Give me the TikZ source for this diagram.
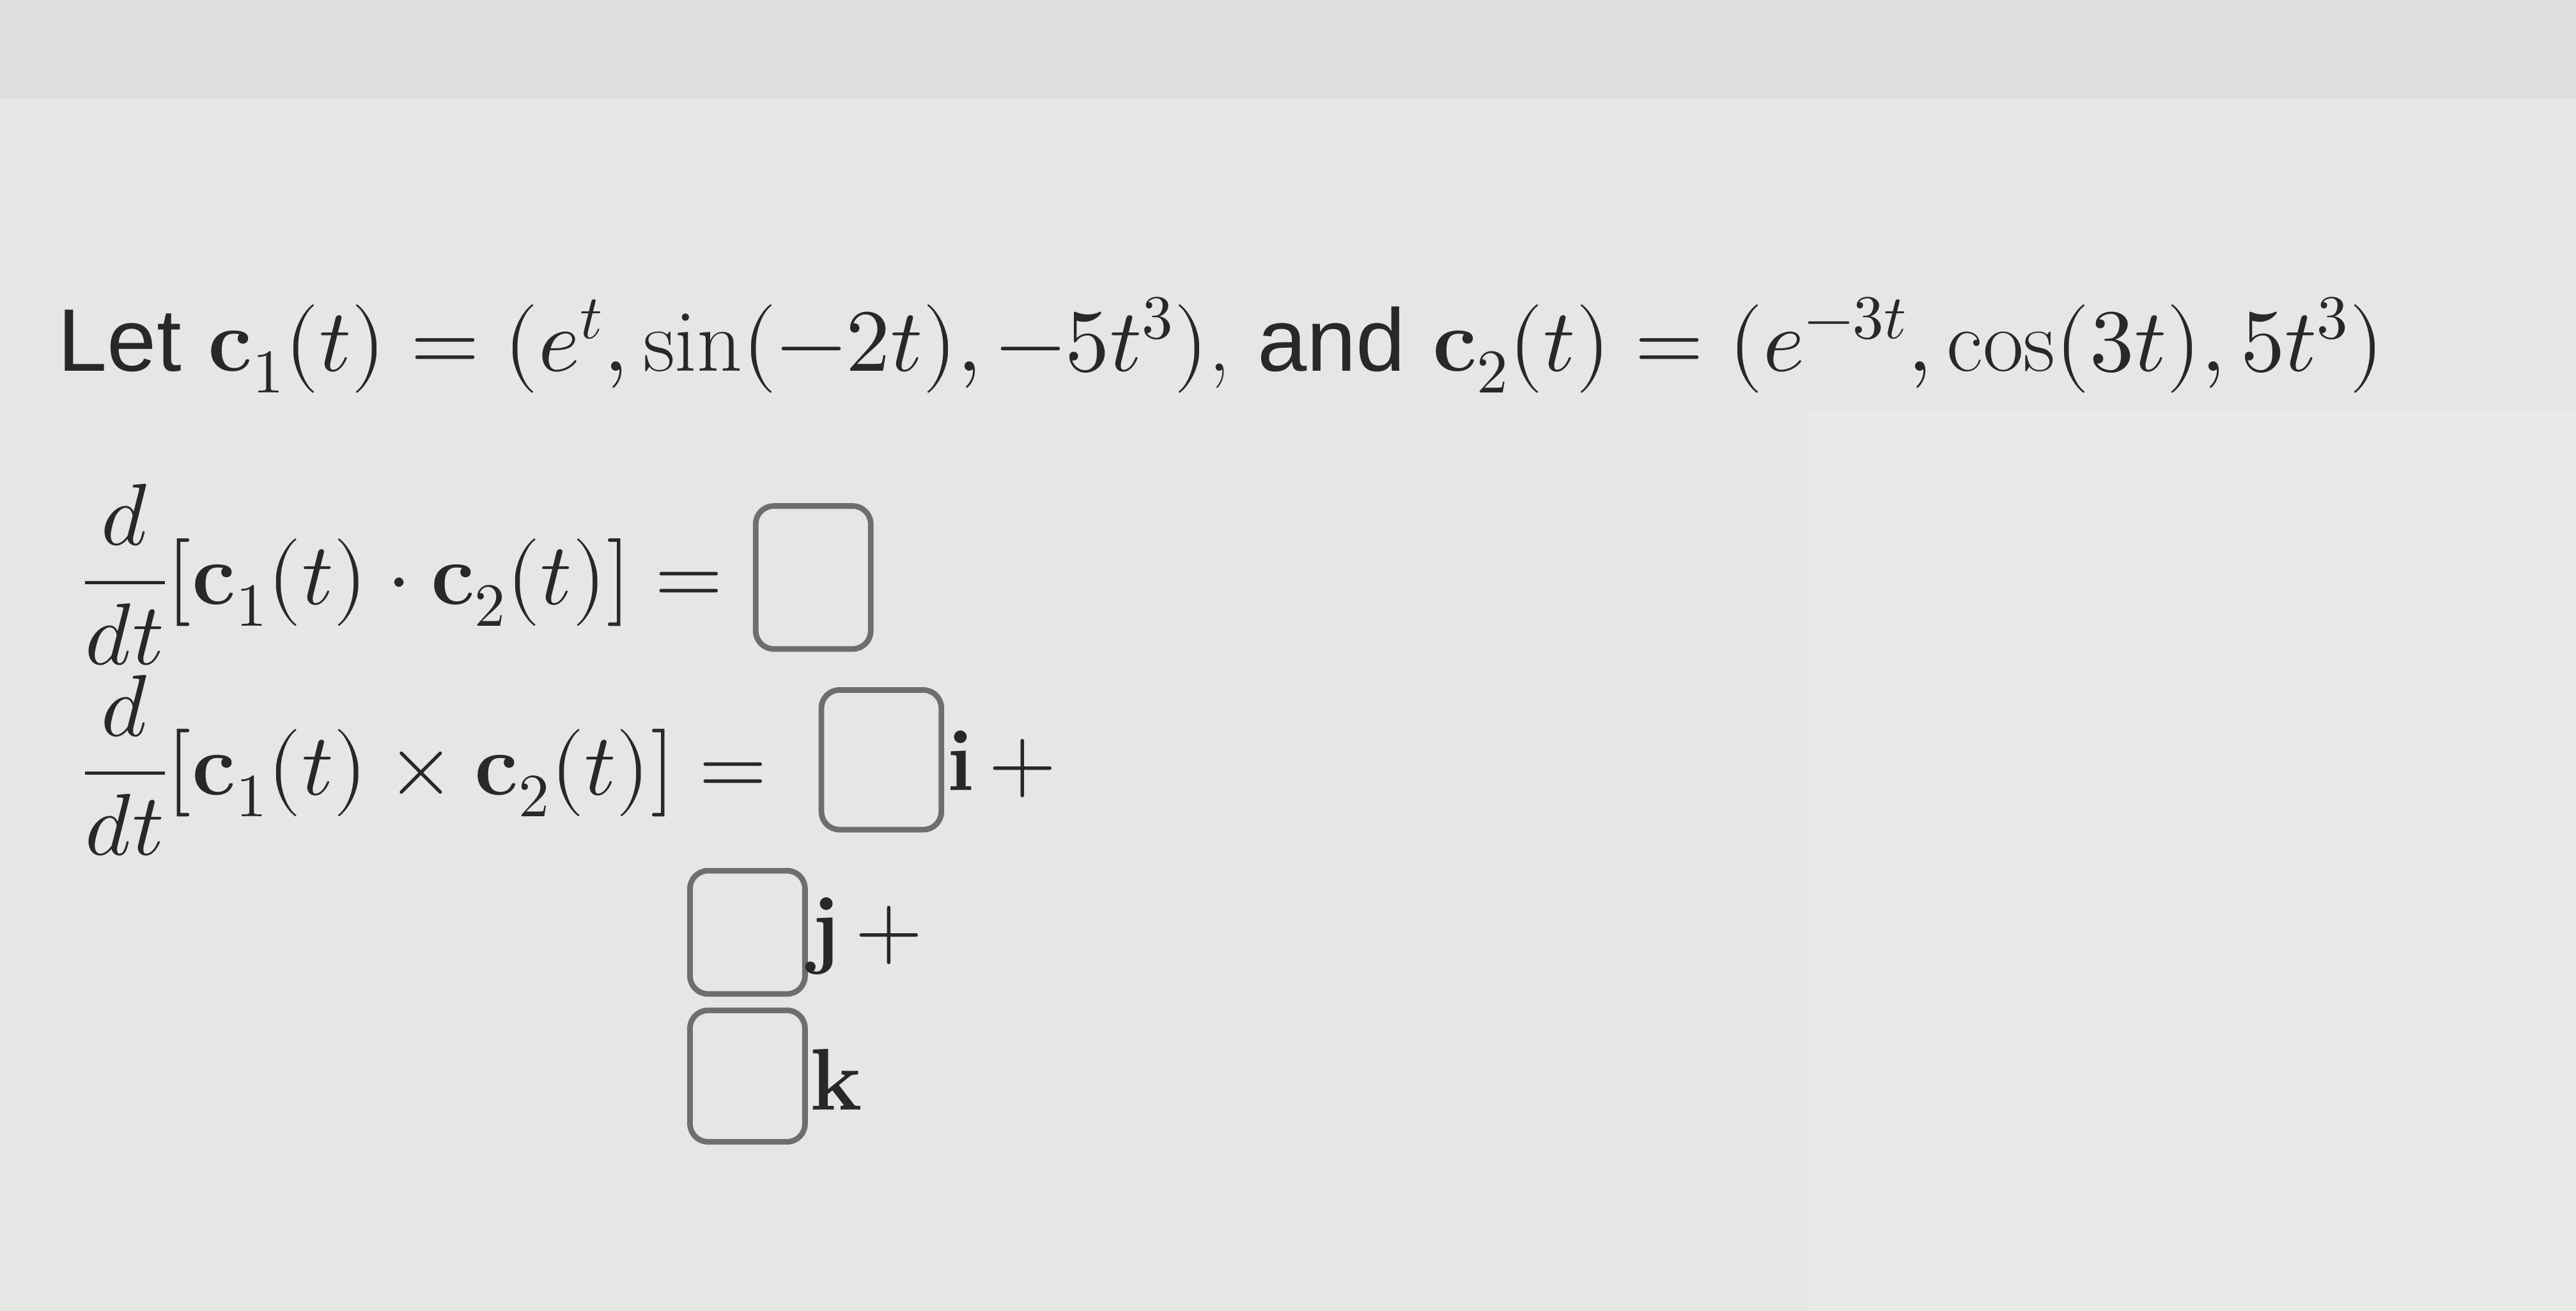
\documentclass[tikz,border=0pt]{standalone}
\usepackage{amsmath}
\usepackage{fontspec}
\usepackage{unicode-math}
\setmathfont{Latin Modern Math}
\setsansfont{Liberation Sans}
\definecolor{bg}{RGB}{222,222,220}
\definecolor{bgl}{RGB}{230,230,228}
\definecolor{ink}{RGB}{40,40,40}
\definecolor{boxc}{RGB}{110,110,110}
\begin{document}
\begin{tikzpicture}[x=0.0257cm,y=-0.0257cm,
  txt/.style={anchor=west,inner sep=0pt,text=ink,font=\fontsize{39.5}{46}\selectfont},
  txtb/.style={anchor=west,inner sep=0pt,text=ink,font=\fontsize{39}{45}\selectfont},
  ansbox/.style={draw=boxc,line width=2.5pt,rounded corners=8pt,fill=bgl}]
\useasboundingbox (0,0) rectangle (1568,798);
\fill[bg] (0,0) rectangle (1568,798);
\fill[bgl] (0,60) rectangle (1568,798);
\fill[white,opacity=0.15] (1100,250) rectangle (1568,798);
\node[txt] (l1) at (35,210) {\textsf{Let} $\mathbf{c}_1(t)=(e^t,\sin(-2t),-5t^3)$, \textsf{and} $\mathbf{c}_2(t)=(e^{-3t},\cos(3t),5t^3)$};
\node[txtb] (l2) at (50,350) {$\dfrac{d}{dt}[\mathbf{c}_1(t)\cdot\mathbf{c}_2(t)]=$};
\draw[ansbox] (460,308) rectangle (530,395);
\node[txtb] (l3) at (50,466) {$\dfrac{d}{dt}[\mathbf{c}_1(t)\times\mathbf{c}_2(t)]=$};
\draw[ansbox] (500,420) rectangle (573,505);
\node[txtb] (i) at (576,465) {$\mathbf{i}\,+$};
\draw[ansbox] (420,530) rectangle (490,605);
\node[txtb] (j) at (493,570) {$\mathbf{j}\,+$};
\draw[ansbox] (420,615) rectangle (490,695);
\node[txtb] (k) at (493,657) {$\mathbf{k}$};
\end{tikzpicture}
\end{document}
